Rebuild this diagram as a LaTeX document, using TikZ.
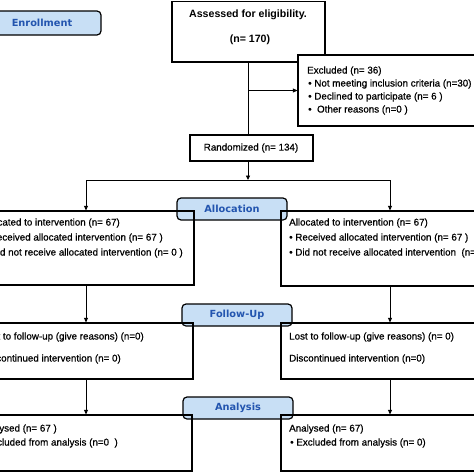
\documentclass[tikz,border=0pt]{standalone}
\usepackage{fontspec}
\setmainfont{Liberation Sans}
\newfontfamily\bodyfont{Liberation Sans}[FakeBold=0.7]
\newfontfamily\phasefont{DejaVu Sans}
\usetikzlibrary{arrows.meta}
\definecolor{phasefill}{RGB}{200,223,245}
\definecolor{phasetext}{RGB}{35,85,175}
\begin{document}
\begin{tikzpicture}[x=1pt, y=-1pt,
    box/.style={draw, rectangle, line width=1.2pt},
    phase/.style={draw, rectangle, rounded corners=4pt, line width=1.2pt, fill=phasefill,
        text=phasetext, font=\phasefont\bfseries\fontsize{9.8}{11}\selectfont},
    txt/.style={inner sep=0pt, font=\bodyfont\fontsize{9.8}{11}\selectfont},
    arr/.style={-{Triangle[length=4.5pt, width=4pt]}, line width=0.9pt}]
    \useasboundingbox (0,0) rectangle (474,474);
    \clip (0,0) rectangle (474,474);

    % Enrollment
    \node[phase, minimum width=118pt, minimum height=24pt, text depth=0pt] (enroll) at (42,23) {Enrollment};
    \node[box, minimum width=153pt, minimum height=60.5pt] (assess) at (248.5,31.75) {};
    \node[txt, font=\bfseries\fontsize{10.6}{12}\selectfont] (assesst) at (248,15) {Assessed for eligibility.};
    \node[txt, font=\bfseries\fontsize{10.6}{12}\selectfont] (assessn) at (250,40) {(n= 170)};

    % Excluded
    \node[box, fill=white, minimum width=194pt, minimum height=71pt] (excl) at (395,90.5) {};
    \node[txt, anchor=west] (exa) at (307,71) {Excluded (n= 36)};
    \node[txt, anchor=west] (exb) at (308,84) {\textbullet\ Not meeting inclusion criteria (n=30)};
    \node[txt, anchor=west] (exc) at (308,97) {\textbullet\ Declined to participate (n= 6 )};
    \node[txt, anchor=west] (exd) at (308,110) {\textbullet\ \ Other reasons (n=0 )};

    % Randomized
    \node[box, minimum width=123pt, minimum height=26pt] (rand) at (251.5,148) {};
    \node[txt] (randt) at (251,148) {Randomized (n= 134)};

    % Allocation
    \node[phase, minimum width=110pt, minimum height=22pt] (alloc) at (232,209) {Allocation};
    \node[box, minimum width=224pt, minimum height=74pt] (allocL) at (82,248) {};
    \node[box, minimum width=219pt, minimum height=75pt] (allocR) at (390.5,248.5) {};
    \node[txt, anchor=east] (ala) at (120,223) {Allocated to intervention (n= 67)};
    \node[txt, anchor=east] (alb) at (163,238) {\textbullet\ Received allocated intervention (n= 67 )};
    \node[txt, anchor=east] (alc) at (183,253) {\textbullet\ Did not receive allocated intervention (n= 0 )};
    \node[txt, anchor=west] (ara) at (289,223) {Allocated to intervention (n= 67)};
    \node[txt, anchor=west] (arb) at (289,238) {\textbullet\ Received allocated intervention (n= 67 )};
    \node[txt, anchor=west] (arc) at (289,253) {\textbullet\ Did not receive allocated intervention\ \ (n= 0 )};

    % Follow-Up
    \node[phase, minimum width=110pt, minimum height=22pt] (fup) at (237,315) {Follow-Up};
    \node[box, minimum width=223pt, minimum height=56pt] (fupL) at (81.5,351) {};
    \node[box, minimum width=219pt, minimum height=56pt] (fupR) at (390.5,351) {};
    \node[txt, anchor=east] (fla) at (144,337) {Lost to follow-up (give reasons) (n=0)};
    \node[txt, anchor=east] (flb) at (121,359) {Discontinued intervention (n= 0)};
    \node[txt, anchor=west] (fra) at (289,337) {Lost to follow-up (give reasons) (n= 0)};
    \node[txt, anchor=west] (frb) at (289,359) {Discontinued intervention (n=0)};

    % Analysis
    \node[phase, minimum width=110pt, minimum height=22pt] (anal) at (238,408) {Analysis};
    \node[box, minimum width=222pt, minimum height=56pt] (analL) at (81,443) {};
    \node[box, minimum width=219pt, minimum height=56pt] (analR) at (390.5,443) {};
    \node[txt, anchor=east] (ana) at (57,429) {Analysed (n= 67 )};
    \node[txt, anchor=east] (anb) at (118,443) {\textbullet\ Excluded from analysis (n=0\ \ )};
    \node[txt, anchor=west] (ara2) at (289,429) {Analysed (n= 67)};
    \node[txt, anchor=west] (arb2) at (290,443) {\textbullet\ Excluded from analysis (n= 0)};

    % connectors
    \coordinate (split) at (248,180);
    \coordinate (sl) at (86,180);
    \coordinate (sr) at (390,180);
    \draw[line width=0.9pt] (assess.south -| split) -- (rand.north -| split);
    \draw[arr] (excl.west -| split) -- (excl.west);
    \draw[arr] (rand.south -| split) -- (split);
    \draw[line width=0.9pt] (sl) -- (sr);
    \draw[arr] (sl) -- (sl |- allocL.north);
    \draw[arr] (sr) -- (sr |- allocR.north);
    \draw[arr] (allocL.south -| sl) -- (fupL.north -| sl);
    \draw[arr] (allocR.south -| sr) -- (fupR.north -| sr);
    \draw[arr] (fupL.south -| sl) -- (analL.north -| sl);
    \draw[arr] (fupR.south -| sr) -- (analR.north -| sr);
\end{tikzpicture}
\end{document}
